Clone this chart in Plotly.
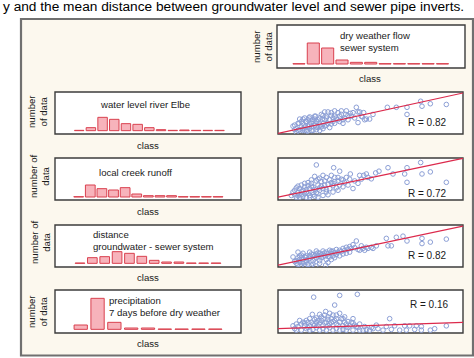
import plotly.graph_objects as go

W, H = 474, 358

title_text = "y and the mean distance between groundwater level and sewer pipe inverts."

# ---- histogram data (number of data per class) ----
hist_names = ["dry weather flow<br>sewer system", "water level river Elbe",
              "local creek runoff", "distance<br>groundwater - sewer system",
              "precipitation<br>7 days before dry weather"]
hist_dry_weather = [1, 63, 48, 12, 5, 5, 1, 1, 1, 1, 1]
hist_elbe = [1, 9, 40, 34, 21, 19, 9, 3, 1, 2, 1, 1, 1]
hist_creek = [1, 36, 25, 21, 28, 9, 4, 4, 4, 1, 1, 1, 1]
hist_distance = [1, 17, 20, 35, 30, 21, 9, 4, 4, 1, 1, 1]
hist_precip = [13, 93, 21, 4, 4, 1, 1, 1, 1]
ylabel_texts = ["number<br>of data", "number<br>of data", "number of<br>data",
                "number of<br>data", "number<br>of data"]

# ---- scatter data (predictor vs dry weather flow) ----
elbe_x = [505, 457, 432, 428, 387, 387, 355, 328, 285, 275,
          265, 257, 253, 240, 235, 245, 225, 217, 210, 203,
          195, 190, 185, 180, 175, 170, 165, 160, 155, 150,
          145, 140, 137, 133, 130, 125, 123, 120, 115, 113,
          110, 105, 103, 100, 95, 93, 90, 85, 83, 80,
          75, 73, 70, 65, 63, 60, 55, 50, 45, 95,
          135, 170, 205, 260, 145, 155, 185, 115, 125, 75,
          85, 135, 195, 220, 110, 100, 80, 65, 55,
          50, 60, 70, 80, 90, 100, 110, 120, 130, 140,
          150, 160, 170, 180, 190, 200, 210, 230, 240, 250,
          105, 125, 145, 165, 115, 95, 75, 88, 140, 160]
elbe_y = [83, 85, 78, 92, 75, 55, 75, 75, 55, 42,
          42, 60, 48, 32, 75, 62, 60, 58, 40, 55,
          40, 55, 35, 60, 45, 50, 35, 52, 40, 62,
          50, 62, 30, 42, 20, 45, 30, 18, 35, 50,
          25, 10, 40, 30, 15, 45, 22, 10, 35, 20,
          30, 10, 20, 42, 30, 10, 15, 25, 22, 48,
          52, 30, 65, 40, 25, 18, 50, 20, 10, 42,
          35, 15, 30, 50, 42, 10, 10, 12, 5,
          12, 30, 35, 45, 40, 20, 50, 40, 55, 40,
          30, 60, 65, 40, 65, 45, 52, 45, 62, 50,
          35, 25, 45, 45, 12, 25, 15, 8, 22, 28]

creek_x = [115, 167, 185, 217, 245, 257, 265, 280, 293, 303,
           330, 345, 380, 387, 387, 428, 432, 457, 505, 205,
           195, 180, 170, 160, 155, 145, 140, 135, 130, 125,
           120, 115, 110, 105, 100, 95, 90, 85, 80, 75,
           70, 65, 60, 55, 50, 45, 40, 55, 65, 75,
           85, 95, 105, 115, 125, 135, 145, 155, 165, 175,
           185, 195, 210, 225, 240, 100, 80, 70, 90, 110,
           120, 135, 150, 165, 180,
           50, 60, 70, 80, 90, 100, 110, 120, 130, 140,
           150, 160, 170, 180, 190, 200, 215, 230, 250, 270,
           105, 125, 145, 165, 95, 120, 60, 85]
creek_y = [101, 93, 83, 75, 71, 71, 75, 61, 78, 83,
           93, 75, 75, 93, 51, 108, 75, 81, 51, 65,
           58, 65, 53, 71, 58, 65, 43, 71, 53, 63,
           43, 55, 68, 38, 48, 33, 41, 23, 38, 28,
           15, 33, 21, 35, 15, 23, 13, 8, 8, 11,
           8, 13, 15, 21, 28, 33, 23, 33, 41, 35,
           43, 38, 43, 33, 48, 58, 48, 43, 18, 11,
           18, 13, 15, 23, 28,
           28, 40, 25, 18, 50, 40, 30, 60, 40, 55,
           45, 50, 65, 55, 60, 50, 60, 55, 60, 65,
           22, 35, 30, 48, 8, 8, 12, 30]

dist_x = [505, 457, 432, 432, 387, 375, 355, 340, 330, 325,
          295, 280, 270, 260, 250, 240, 235, 225, 215, 205,
          195, 185, 175, 165, 155, 145, 135, 125, 115, 105,
          95, 85, 75, 65, 60, 45, 55, 65, 75, 85,
          95, 105, 115, 125, 135, 145, 155, 165, 175, 185,
          195, 205, 215, 143, 113, 70, 80, 90, 100, 60,
          95, 110, 120, 130, 140, 150, 160, 245, 255, 265,
          285, 70, 83, 65, 55,
          50, 60, 70, 80, 90, 100, 110, 120, 130, 140,
          150, 160, 170, 180, 190, 200, 210, 220, 230, 75,
          85, 105, 125, 150, 160, 170, 115, 135]
dist_y = [75, 67, 77, 63, 70, 83, 80, 57, 57, 77,
          57, 53, 50, 45, 57, 47, 70, 60, 55, 53,
          50, 45, 47, 43, 45, 40, 43, 37, 43, 33,
          40, 30, 37, 30, 40, 27, 17, 13, 20, 13,
          23, 17, 25, 17, 27, 20, 27, 30, 33, 30,
          35, 37, 40, 5, 3, 5, 5, 7, 5, 7,
          30, 30, 30, 33, 30, 35, 37, 45, 50, 53,
          50, 25, 25, 20, 10,
          15, 25, 32, 28, 20, 35, 22, 38, 25, 38,
          28, 42, 38, 40, 42, 45, 48, 50, 52, 10,
          18, 8, 10, 12, 20, 25, 35, 35]

precip_x = [107, 185, 238, 170, 143, 155, 125, 103, 185, 195,
            225, 175, 150, 135, 115, 95, 85, 75, 65, 55,
            45, 55, 70, 85, 95, 105, 115, 125, 135, 145,
            155, 165, 175, 185, 195, 205, 215, 230, 245, 255,
            265, 275, 285, 295, 315, 325, 335, 350, 365, 380,
            385, 395, 415, 430, 430, 457, 505, 105, 125, 145,
            165, 185, 205, 225, 235, 80, 90, 110, 120, 140,
            160, 165, 95, 115, 135, 155, 175, 195, 210, 245,
            50, 60, 70, 80, 90, 100, 110, 120, 130, 140,
            150, 160, 170, 180, 190, 200, 210, 220, 240, 260,
            280, 300, 130, 150, 175, 200, 225, 340, 410, 470]
precip_y = [100, 105, 108, 78, 60, 55, 52, 52, 55, 40,
            40, 40, 45, 40, 42, 40, 35, 30, 35, 25,
            20, 8, 8, 12, 20, 25, 30, 28, 22, 30,
            25, 32, 25, 30, 20, 25, 20, 22, 25, 8,
            10, 8, 12, 22, 8, 18, 40, 20, 8, 20,
            8, 20, 20, 18, 8, 8, 20, 10, 8, 8,
            8, 8, 8, 8, 18, 20, 30, 38, 35, 50,
            40, 50, 8, 15, 12, 15, 12, 10, 32, 8,
            12, 18, 25, 28, 15, 30, 22, 20, 35, 28,
            20, 30, 35, 22, 40, 30, 15, 30, 15, 18,
            15, 12, 45, 38, 50, 45, 28, 10, 10, 12]

r_labels = ["R = 0.82", "R = 0.72", "R = 0.82", "R = 0.16"]
fit_intercept = [2, 8, 5, 12]
fit_slope = [0.204, 0.202, 0.189, 0.032]

# ---- styling ----
FONT = "Liberation Sans, Arial, sans-serif"
BAR_FILL = "#f7b3bb"
BAR_LINE = "#d9404f"
PT_COLOR = "#8c9fd6"
FIT_COLOR = "#dc2a4c"
BOX_LINE = "#3c3c3c"


def dom(l, r, t, b):
    return [l / W, r / W], [1 - b / H, 1 - t / H]


def px(x):
    return x / W


def py(y):
    return 1 - y / H


fig = go.Figure()
layout = dict(width=W, height=H, margin=dict(l=0, r=0, t=0, b=0),
              paper_bgcolor="white", plot_bgcolor="rgba(0,0,0,0)",
              showlegend=False)
shapes = [dict(type="rect", xref="paper", yref="paper", x0=px(21), x1=px(473),
               y0=py(355.5), y1=py(19), fillcolor="#fcf8ee",
               line=dict(color="#707070", width=2.2), layer="below")]
annotations = []


def ann(text, x, y, size=9.6, xanchor="center", yanchor="middle", angle=0,
        align="center", color="#1a1a1a"):
    annotations.append(dict(text=text, x=px(x), y=py(y), xref="paper", yref="paper",
                            showarrow=False, xanchor=xanchor, yanchor=yanchor,
                            textangle=angle, align=align,
                            font=dict(family=FONT, size=size, color=color)))


axis_n = [0]


def new_axes(box, xr, yr):
    axis_n[0] += 1
    n = axis_n[0]
    xd, yd = dom(*box)
    sfx = "" if n == 1 else str(n)
    layout["xaxis" + sfx] = dict(domain=xd, range=xr, visible=False, anchor="y" + sfx)
    layout["yaxis" + sfx] = dict(domain=yd, range=yr, visible=False, anchor="x" + sfx)
    shapes.append(dict(type="rect", xref="paper", yref="paper",
                       x0=xd[0], x1=xd[1], y0=yd[0], y1=yd[1],
                       fillcolor="white", line=dict(color=BOX_LINE, width=1.4),
                       layer="below"))
    return "x" + sfx, "y" + sfx


# histogram panels: (data, box(l,r,t,b), xrange, yrange, bar width)
hist_specs = [
    (hist_dry_weather, (277, 465, 25, 68), [-0.53, 12.57], [-12, 117], 0.84),
    (hist_elbe, (55, 241, 92, 134), [-1.07, 14.84], [-10, 116], 0.81),
    (hist_creek, (55, 241, 158, 200), [-1.04, 14.98], [-9, 117], 0.84),
    (hist_distance, (55, 241, 225, 267), [-1.02, 14.02], [-11, 115], 0.78),
    (hist_precip, (55, 241, 290, 333), [-0.53, 10.53], [-11, 118], 0.79),
]
for data, box, xr, yr, bw in hist_specs:
    xa, ya = new_axes(box, xr, yr)
    fig.add_trace(go.Bar(x=list(range(1, len(data) + 1)), y=data, width=bw,
                         marker=dict(color=BAR_FILL, line=dict(color=BAR_LINE, width=1)),
                         xaxis=xa, yaxis=ya, hoverinfo="skip"))

# scatter panels
scatter_specs = [
    (elbe_x, elbe_y, (278, 463, 92, 134), [0, 118]),
    (creek_x, creek_y, (278, 463, 158, 200), [0, 121]),
    (dist_x, dist_y, (278, 463, 225, 267), [0, 113]),
    (precip_x, precip_y, (278, 463, 290, 333), [0, 120]),
]
for i, (sx, sy, box, yr) in enumerate(scatter_specs):
    xa, ya = new_axes(box, [0, 555], yr)
    fig.add_trace(go.Scatter(x=sx, y=sy, mode="markers", xaxis=xa, yaxis=ya,
                             marker=dict(symbol="circle-open", size=4.6, color=PT_COLOR,
                                         line=dict(width=1, color=PT_COLOR)),
                             hoverinfo="skip"))
    fx = [0, 555]
    fy = [fit_intercept[i] + fit_slope[i] * v for v in fx]
    fig.add_trace(go.Scatter(x=fx, y=fy, mode="lines", xaxis=xa, yaxis=ya,
                             line=dict(color=FIT_COLOR, width=1.2), hoverinfo="skip"))

# texts
ann(title_text, 1, 6.5, size=13.7, xanchor="left", color="black")

ann(hist_names[0], 338, 41, xanchor="left", align="left")
ann(hist_names[1], 145, 105)
ann(hist_names[2], 135.5, 172)
ann(hist_names[3], 91, 240.5, xanchor="left", align="left")
ann(hist_names[4], 107, 306.5, xanchor="left", align="left")

ann(ylabel_texts[0], 262, 47, angle=-90)
ann(ylabel_texts[1], 37, 112, angle=-90)
ann(ylabel_texts[2], 40, 176, angle=-90)
ann(ylabel_texts[3], 40, 242, angle=-90)
ann(ylabel_texts[4], 37, 312, angle=-90)

ann("class", 370, 79)
ann("class", 148, 145)
ann("class", 148, 211)
ann("class", 148, 277)
ann("class", 148, 343)

ann(r_labels[0], 449, 123, size=10, xanchor="right")
ann(r_labels[1], 449, 193, size=10, xanchor="right")
ann(r_labels[2], 449, 255, size=10, xanchor="right")
ann(r_labels[3], 451, 304, size=10, xanchor="right")

layout["shapes"] = shapes
layout["annotations"] = annotations
fig.update_layout(**layout)
fig.write_html("out.html", config={"displayModeBar": False},
               post_script="document.body.style.margin='0';document.body.style.overflow='hidden';")
